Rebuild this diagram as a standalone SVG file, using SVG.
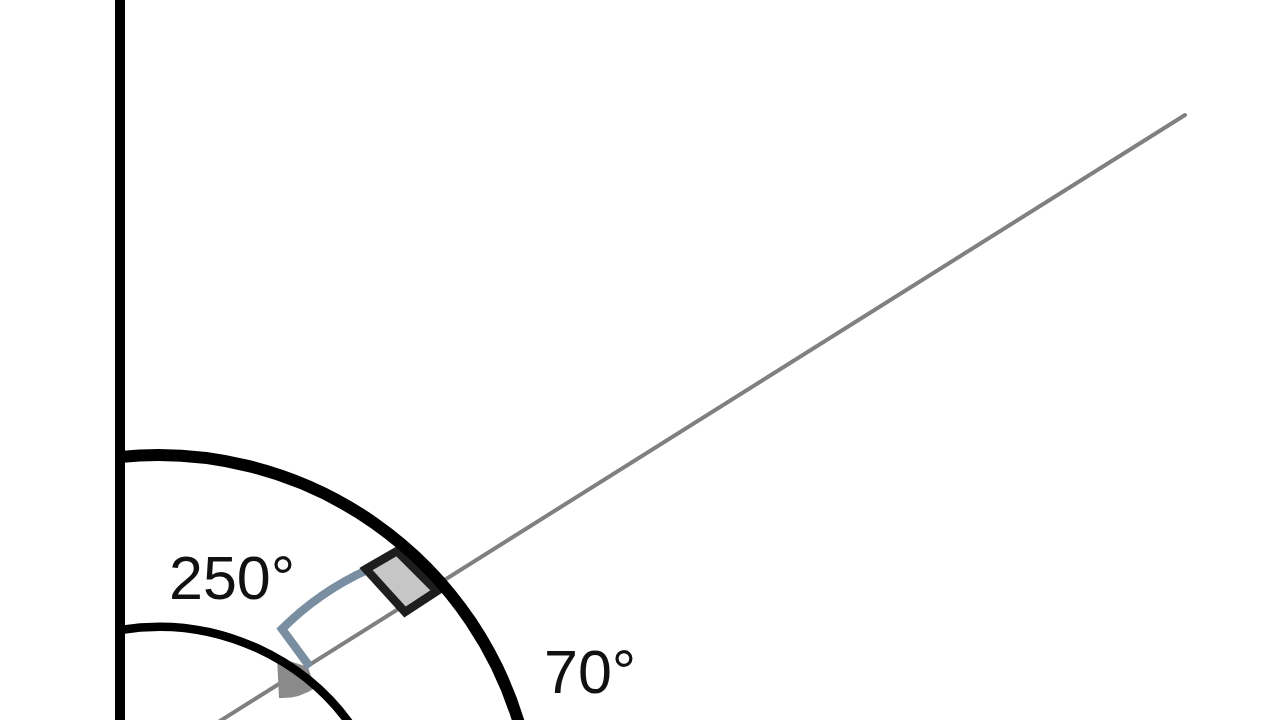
<svg xmlns="http://www.w3.org/2000/svg" width="1280" height="720" viewBox="0 0 1280 720">
  <style>
    .lbl { font-family: "Liberation Sans", Arial, sans-serif; font-size: 61px; fill: #111; }
    .blk { fill: none; stroke: #000; }
  </style>
  <rect x="0" y="0" width="1280" height="720" fill="#fff"/>
  <g id="ray">
    <line x1="189.7" y1="740" x2="1185" y2="115" stroke="#808080" stroke-width="4" stroke-linecap="round"/>
  </g>
  <g id="wedge">
    <path d="M277,657 L279,698 Q299,699 315,688 L308,667 Z" fill="#8a8a8a"/>
  </g>
  <g id="bracket">
    <path d="M367,570 Q319,592 282,629 L310,667" fill="none" stroke="#7a8ea2" stroke-width="8.5" stroke-linejoin="miter"/>
  </g>
  <g id="square">
    <path d="M366,569 L397,551 L437,591 L405,612 Z" fill="#c6c6c6" stroke="#1e1e1e" stroke-width="8.5" stroke-linejoin="miter"/>
  </g>
  <g id="axis">
    <line x1="120" y1="0" x2="120" y2="720" stroke="#000" stroke-width="10"/>
  </g>
  <g id="arcs">
    <path class="blk" d="M120,457 A376.6 376.6 0 0 1 523.6,740" stroke-width="12"/>
    <path class="blk" d="M120,630 A236.7 236.7 0 0 1 360.7,740" stroke-width="8.5"/>
  </g>
  <g id="labels">
    <text class="lbl" x="169" y="599">250°</text>
    <text class="lbl" x="544" y="693">70°</text>
  </g>
</svg>
